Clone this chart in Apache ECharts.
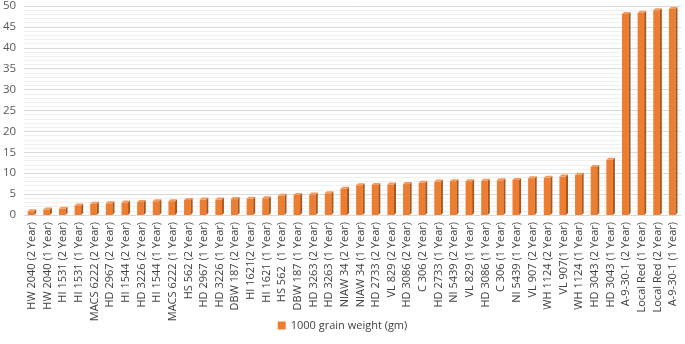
<!DOCTYPE html>
<html>
<head>
<meta charset="utf-8">
<script src="https://cdn.jsdelivr.net/npm/echarts@6/dist/echarts.min.js"></script>
<style>
  html, body { margin: 0; padding: 0; background: #fff; }
  #chart { width: 685px; height: 344px; }
</style>
</head>
<body>
<div id="chart"></div>
<script>
// ── Data ──────────────────────────────────────────────────────────────
const varieties = [
  'HW 2040 (2 Year)', 'HW 2040 (1 Year)', 'HI 1531 (2 Year)', 'HI 1531 (1 Year)',
  'MACS 6222 (2 Year)', 'HD 2967 (2 Year)', 'HI 1544 (2 Year)', 'HD 3226 (2 Year)',
  'HI 1544 (1 Year)', 'MACS 6222 (1 Year)', 'HS 562 (2 Year)', 'HD 2967 (1 Year)',
  'HD 3226 (1 Year)', 'DBW 187 (2 Year)', 'HI 1621(2 Year)', 'HI 1621 (1 Year)',
  'HS 562  (1 Year)', 'DBW 187 (1 Year)', 'HD 3263 (2 Year)', 'HD 3263 (1 Year)',
  'NIAW 34 (2 Year)', 'NIAW 34 (1 Year)', 'HD 2733 (2 Year)', 'VL 829 (2 Year)',
  'HD 3086 (2 Year)', 'C 306 (2 Year)', 'HD 2733 (1 Year)', 'NI 5439 (2 Year)',
  'VL 829 (1 Year)', 'HD 3086 (1 Year)', 'C 306 (1 Year)', 'NI 5439 (1 Year)',
  'VL 907 (2 Year)', 'WH 1124 (2 Year)', 'VL 907(1 Year)', 'WH 1124 (1 Year)',
  'HD 3043 (2 Year)', 'HD 3043 (1 Year)', 'A-9-30-1 (2 Year)', 'Local Red (1 Year)',
  'Local Red (2 Year)', 'A-9-30-1 (1 Year)'
];
const grainWeight = [
  0.9, 1.3, 1.5, 2.3, 2.7, 2.8, 3.0, 3.1, 3.3, 3.3, 3.6, 3.7, 3.7, 3.8,
  3.9, 4.0, 4.6, 4.8, 4.9, 5.2, 6.3, 7.1, 7.2, 7.3, 7.4, 7.7, 8.0, 8.1,
  8.1, 8.2, 8.3, 8.4, 8.8, 8.9, 9.2, 9.6, 11.5, 13.2, 48.1, 48.4, 49.0, 49.3
];
const seriesName = '1000 grain weight (gm)';

// ── Style ─────────────────────────────────────────────────────────────
const fontFamily = '"Open Sans", Lato, sans-serif';
const frontColor = '#ED7D31';
const sideColor  = '#A9561C';
const topColor   = '#F39A5C';

const chart = echarts.init(document.getElementById('chart'), null, { renderer: 'canvas' });

// draws one pseudo-3D column: front face + right side + top
function renderColumn(params, api) {
  const idx = api.value(0);
  const top = api.coord([idx, api.value(1)]);
  const base = api.coord([idx, 0]);
  const band = api.size([1, 0])[0];
  const w = band * 0.42;
  const d = 2;
  const x0 = top[0] - w / 2 - 1;
  const x1 = x0 + w;
  return {
    type: 'group',
    children: [
      { type: 'rect', shape: { x: x0, y: top[1], width: w, height: base[1] - top[1] },
        style: { fill: frontColor } },
      { type: 'polygon', shape: { points: [[x1, top[1]], [x1 + d, top[1] - d], [x1 + d, base[1] - d], [x1, base[1]]] },
        style: { fill: sideColor } },
      { type: 'polygon', shape: { points: [[x0, top[1]], [x0 + d, top[1] - d], [x1 + d, top[1] - d], [x1, top[1]]] },
        style: { fill: topColor } }
    ]
  };
}

chart.setOption({
  animation: false,
  tooltip: { show: false },
  legend: {
    bottom: 8, left: 'center',
    icon: 'rect', itemWidth: 8, itemHeight: 8, itemGap: 4,
    textStyle: { fontFamily, fontSize: 11, color: '#404040' },
    data: [{ name: seriesName, itemStyle: { color: frontColor } }]
  },
  grid: { left: 22, right: 4, top: 6, bottom: 129 },
  xAxis: {
    type: 'category', data: varieties,
    axisLine: { show: true, lineStyle: { color: '#D9D9D9', width: 1 } },
    axisTick: { show: false },
    axisLabel: { interval: 0, rotate: 90, fontFamily, fontSize: 11, color: '#404040', margin: 7 }
  },
  yAxis: {
    type: 'value', min: 0, max: 50, interval: 5,
    axisLine: { show: false }, axisTick: { show: false },
    axisLabel: { fontFamily, fontSize: 11.5, color: '#595959', margin: 8 },
    splitLine: { lineStyle: { color: '#D9D9D9', width: 1 } },
    minorTick: { show: false, splitNumber: 5 },
    minorSplitLine: { show: true, lineStyle: { color: '#F0F0F0', width: 1 } }
  },
  series: [{
    name: seriesName,
    type: 'custom',
    renderItem: renderColumn,
    itemStyle: { color: frontColor },
    encode: { x: 0, y: 1 },
    data: grainWeight.map((v, i) => [i, v])
  }]
});
</script>
</body>
</html>
